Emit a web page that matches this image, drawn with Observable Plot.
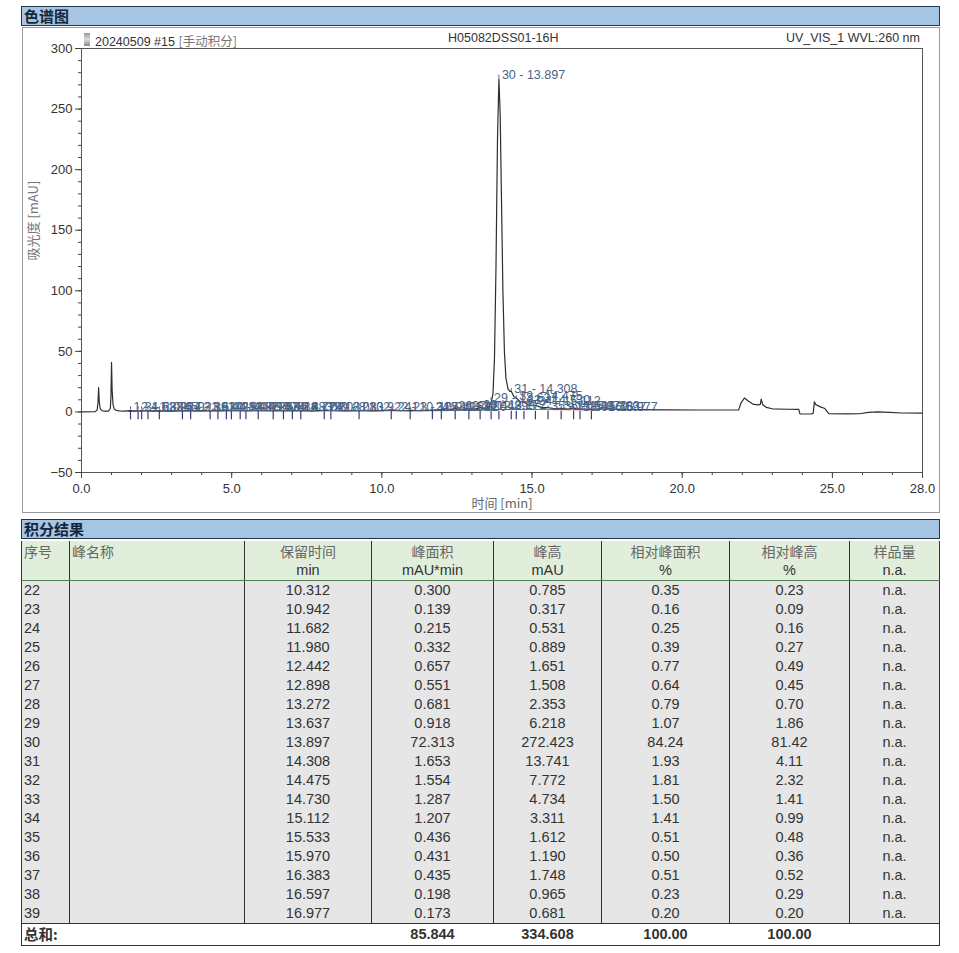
<!DOCTYPE html>
<html><head><meta charset="utf-8">
<script src="https://cdn.jsdelivr.net/npm/d3@7"></script>
<script src="https://cdn.jsdelivr.net/npm/@observablehq/plot@0.6"></script>
<style>
body{margin:0;background:#fff;font-family:"Liberation Sans",Arial,sans-serif;}
#page{position:relative;width:959px;height:953px;overflow:hidden;}
.bar{position:absolute;left:21px;width:915px;height:18px;background:#a6c4e4;border:1px solid #22364c;font-family:"Noto Sans CJK SC",sans-serif;font-weight:bold;font-size:15px;line-height:18px;color:#16263a;padding-left:2px;}
#chartbox{position:absolute;left:22px;top:27px;width:916px;height:484px;border:1px solid #9a9a9a;}
#plot{position:absolute;left:22px;top:27px;}
.hdr{position:absolute;top:31px;font-size:12.5px;color:#333;white-space:nowrap;}
#tbl{position:absolute;left:21px;top:541px;border-collapse:collapse;table-layout:fixed;width:918px;font-size:14.5px;color:#333;}
#tbl td{padding:0;height:19px;line-height:19px;text-align:center;border-left:1px solid #333;border-right:1px solid #333;background:#e6e6e6;white-space:nowrap;overflow:hidden;}
#tbl tr.h td{background:#e1eedb;height:38px;line-height:18px;vertical-align:top;padding-top:1px;border-bottom:1px solid #4f7f4f;}
#tbl tr.h td .cn{font-family:"Noto Sans CJK SC",serif;color:#666;font-size:14px;}
#tbl td.l{text-align:left;padding-left:2px;}
#tbl tr.t td{background:#fff;border-left:none;border-right:none;border-top:1px solid #333;border-bottom:1px solid #333;font-weight:bold;height:21px;}
#tbl tr.t td:first-child{border-left:1px solid #333;}
#tbl tr.t td:last-child{border-right:1px solid #333;}
#tbl tr.last td{border-bottom:1px solid #333;}
</style></head>
<body><div id="page">
<div class="bar" style="top:6px;">色谱图</div>
<div id="chartbox"></div>
<div id="plot"></div>
<div style="position:absolute;left:84px;top:33px;width:6px;height:13px;background:linear-gradient(#999,#ddd,#888);"></div>
<div class="hdr" style="left:95px;">20240509 #15 <span style="font-family:'Noto Sans CJK SC';color:#777;">[手动积分]</span></div>
<div class="hdr" style="left:448px;">H05082DSS01-16H</div>
<div class="hdr" style="right:39px;">UV_VIS_1 WVL:260 nm</div>
<div class="bar" style="top:519px;">积分结果</div>
<table id="tbl"></table>
</div>
<script>
// ---- chart data ----
const chromatogram = [
 [0,0],[0.45,0.2],[0.52,1.5],[0.55,8],[0.57,20],[0.59,9],[0.62,3],[0.67,1.2],[0.75,0.6],[0.9,0.6],
 [0.96,3],[0.98,12],[1.0,41],[1.02,18],[1.05,6],[1.09,2.5],[1.15,1.4],[1.25,0.9],[1.4,0.6],[1.63,1.0],
 [1.75,0.6],[1.88,1.1],[2.0,1.2],[2.21,1.0],[2.4,0.7],[2.59,1.1],[3.0,0.7],[3.36,1.2],[3.63,1.1],[4.0,0.8],
 [4.28,1.2],[4.54,1.0],[4.82,1.3],[4.99,1.2],[5.28,1.3],[5.47,1.1],[5.88,1.2],[6.38,1.0],[6.72,1.2],[7.02,1.0],
 [7.3,1.1],[7.7,0.8],[8.08,1.3],[8.3,1.2],[8.8,0.9],[9.24,1.2],[9.7,0.9],[10.0,1.0],[10.312,1.7],[10.6,1.1],
 [10.942,1.3],[11.3,1.1],[11.682,1.5],[11.98,1.9],[12.2,1.6],[12.442,2.7],[12.7,2.0],[12.898,2.6],[13.1,2.3],[13.272,3.6],
 [13.45,3.0],[13.55,3.8],[13.637,7.5],[13.7,15],[13.75,45],[13.8,120],[13.85,225],[13.897,275],[13.94,245],[13.98,180],
 [14.03,100],[14.08,50],[14.13,28],[14.2,19],[14.26,17],[14.308,17],[14.4,12.5],[14.475,11.5],[14.6,8.5],[14.73,8],
 [14.9,5.5],[15.112,5.5],[15.3,3.8],[15.533,3.6],[15.75,2.6],[15.97,3.0],[16.2,2.4],[16.383,3.3],[16.5,2.5],[16.597,2.6],
 [16.8,2.0],[16.977,2.3],[17.15,1.8],[17.3,3.2],[17.45,3.6],[17.6,2.6],[17.9,2.1],[18.5,1.9],[19.5,1.7],[20.5,1.6],
 [21.5,1.6],[21.88,1.7],[21.95,7],[22.07,11.5],[22.2,9],[22.35,6.5],[22.52,5.8],[22.6,6.2],[22.63,10.5],[22.68,6],
 [22.8,3.8],[23.0,2.6],[23.5,2.2],[23.88,2.1],[23.92,-1.6],[24.3,-1.7],[24.36,-1.2],[24.4,8.3],[24.45,6],[24.6,4.2],
 [24.75,2.8],[24.88,-1.4],[25.5,-1.6],[25.9,-1.5],[26.2,-0.4],[26.5,0],[26.9,-0.4],[27.3,-0.9],[28.0,-1.0]
];
// integration baseline (red)
const baselineSeg = [[1.55,0.6],[12.0,1.0],[13.6,2.0],[15.2,2.0],[17.1,1.6]];
// peaks 1-21 (estimated retention times and heights)
const earlyPeakRT = [1.632,1.884,2.003,2.214,2.592,3.361,3.634,4.283,4.541,4.822,4.991,5.283,5.474,5.884,6.383,6.724,7.021,7.302,8.083,8.302,9.241];
const earlyPeakH  = [0.6,0.7,0.8,0.6,0.6,0.7,0.6,0.7,0.6,0.8,0.7,0.8,0.6,0.7,0.6,0.7,0.6,0.6,0.8,0.7,0.7];
// integration results table (peaks 22-39)
const peakNo     = [22,23,24,25,26,27,28,29,30,31,32,33,34,35,36,37,38,39];
const retTime    = ["10.312","10.942","11.682","11.980","12.442","12.898","13.272","13.637","13.897","14.308","14.475","14.730","15.112","15.533","15.970","16.383","16.597","16.977"];
const peakArea   = ["0.300","0.139","0.215","0.332","0.657","0.551","0.681","0.918","72.313","1.653","1.554","1.287","1.207","0.436","0.431","0.435","0.198","0.173"];
const peakHeight = ["0.785","0.317","0.531","0.889","1.651","1.508","2.353","6.218","272.423","13.741","7.772","4.734","3.311","1.612","1.190","1.748","0.965","0.681"];
const relArea    = ["0.35","0.16","0.25","0.39","0.77","0.64","0.79","1.07","84.24","1.93","1.81","1.50","1.41","0.51","0.50","0.51","0.23","0.20"];
const relHeight  = ["0.23","0.09","0.16","0.27","0.49","0.45","0.70","1.86","81.42","4.11","2.32","1.41","0.99","0.48","0.36","0.52","0.29","0.20"];
const amount     = "n.a.";
const totals     = {area:"85.844", height:"334.608", relArea:"100.00", relHeight:"100.00"};
const yTicks = [-50,0,50,100,150,200,250,300];
const xTicks = [0,5,10,15,20,25,28];

// ---- build peak list ----
const peaks = [];
earlyPeakRT.forEach((rt,i)=>peaks.push({no:i+1, rt, h:earlyPeakH[i]}));
peakNo.forEach((n,i)=>peaks.push({no:n, rt:+retTime[i], h:+peakHeight[i]}));
peaks.forEach(p=>{p.top = p.h + (p.rt>13.5 && p.rt<15.5 ? 3 : 1); p.label = `${p.no} - ${p.rt.toFixed(3)}`;});

const chart = Plot.plot({
  width: 918, height: 486,
  marginLeft: 59, marginRight: 18, marginTop: 21, marginBottom: 41,
  style: {fontFamily: '"Liberation Sans", Arial, sans-serif', fontSize: "13px", color: "#333", background: "transparent"},
  x: {domain: [0, 28]},
  y: {domain: [-50, 300]},
  marks: [
    Plot.frame({stroke: "#555"}),
    Plot.axisY(yTicks, {tickSize: 6, tickPadding: 3, label: null, fontSize: 13, stroke: "#444"}),
    Plot.axisY(d3.range(-50, 301, 10), {tickSize: 3, text: null, label: null, stroke: "#444"}),
    Plot.axisX(xTicks, {tickSize: 6, tickPadding: 5, tickFormat: d3.format(".1f"), label: null, fontSize: 13, stroke: "#444"}),
    Plot.axisX(d3.range(0, 29, 1), {tickSize: 3, text: null, label: null, stroke: "#444"}),
    Plot.text(["吸光度 [mAU]"], {frameAnchor: "left", rotate: -90, dx: -48, fill: "#777", fontSize: 13, fontFamily: '"Noto Sans CJK SC", sans-serif'}),
    Plot.text(["时间 [min]"], {frameAnchor: "bottom", dy: 35, fill: "#666", fontSize: 13, fontFamily: '"Noto Sans CJK SC", sans-serif'}),
    Plot.line(baselineSeg, {x: d => d[0], y: d => d[1], stroke: "#d04a5a", strokeWidth: 1}),
    Plot.ruleX(peaks, {x: "rt", y1: 0.6, y2: -6.5, stroke: "#3c3a78", strokeWidth: 1.2}),
    Plot.line(chromatogram, {x: d => d[0], y: d => d[1], stroke: "#2b2f33", strokeWidth: 1.2}),
    Plot.ruleX(peaks, {x: "rt", y1: "top", y2: d => d.top + 2.5, stroke: "#44608a", strokeWidth: 1}),
    Plot.text(peaks, {x: "rt", y: "top", text: "label", textAnchor: "start", lineAnchor: "bottom", dx: 3, dy: 1, fill: "#4a6385", fontSize: 12.5})
  ]
});
document.getElementById("plot").appendChild(chart);

// ---- table ----
const tbl = document.getElementById("tbl");
const widths = [48,175,127,122,108,128,120,90];
let html = "<colgroup>" + widths.map(w=>`<col style="width:${w}px">`).join("") + "</colgroup>";
const heads = [["序号",""],["峰名称",""],["保留时间","min"],["峰面积","mAU*min"],["峰高","mAU"],["相对峰面积","%"],["相对峰高","%"],["样品量","n.a."]];
html += '<tr class="h">' + heads.map((h,i)=>`<td class="${i<2?'l':''}"><span class="cn">${h[0]}</span><br>${h[1]}</td>`).join("") + "</tr>";
peakNo.forEach((n,i)=>{
  html += `<tr class="${i===peakNo.length-1?'last':''}"><td class="l">${n}</td><td></td><td>${retTime[i]}</td><td>${peakArea[i]}</td><td>${peakHeight[i]}</td><td>${relArea[i]}</td><td>${relHeight[i]}</td><td>${amount}</td></tr>`;
});
html += `<tr class="t"><td class="l" colspan="2"><span style="font-family:'Noto Sans CJK SC';">总和:</span></td><td></td><td>${totals.area}</td><td>${totals.height}</td><td>${totals.relArea}</td><td>${totals.relHeight}</td><td></td></tr>`;
tbl.innerHTML = html;
</script>
</body></html>
